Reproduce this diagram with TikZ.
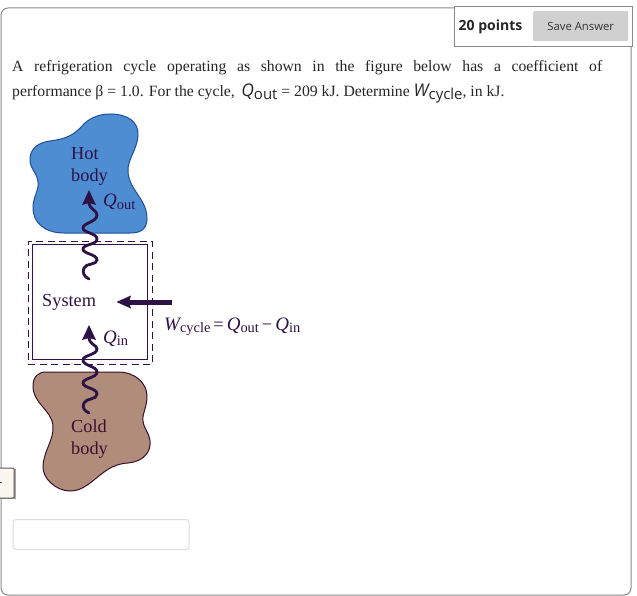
\documentclass[tikz,border=0pt]{standalone}
\usepackage{fontspec}
\setmainfont{Liberation Serif}
\newfontfamily\uifont{Open Sans}
\usetikzlibrary{arrows.meta,shadows}
\definecolor{ink}{HTML}{2E1145}
\definecolor{hot}{HTML}{4F8DD3}
\definecolor{hotline}{HTML}{1F4E9A}
\definecolor{cold}{HTML}{B08D7B}
\definecolor{coldline}{HTML}{3A0F2E}
\definecolor{frameline}{HTML}{8A8A8A}
\definecolor{btn}{HTML}{D0D0D0}
\definecolor{fieldline}{HTML}{DDDDDD}
\definecolor{tabfill}{HTML}{FAF7F0}
\newcommand{\qsym}[2]{{\uifont\itshape\fontsize{17.5}{17}\selectfont #1}\raisebox{-3pt}{\uifont\fontsize{15}{17}\selectfont #2}}
\newcommand{\figsym}[2]{{\itshape\fontsize{19}{22}\selectfont #1}\raisebox{-2.5pt}{\fontsize{14.4}{16}\selectfont #2}}
\tikzset{
  x=1pt,y=-1pt,
  panel/.style={draw=frameline,line width=1pt,fill=white},
  prose/.style={inner sep=0,anchor=base west,font=\fontsize{15.7}{17}\selectfont,text=black!85},
  figlabel/.style={inner sep=0,font=\fontsize{18.3}{22}\selectfont,text=ink},
  blob/.style={line width=1pt,line join=round},
  heat/.style={draw=ink,line width=2.8pt,line cap=round},
  heathead/.style={fill=ink,draw=none},
  boxline/.style={draw=ink,line width=1pt},
}
\begin{document}
\begin{tikzpicture}
\useasboundingbox (0,0) rectangle (637,596);
\fill[white] (0,0) rectangle (637,596);
% page frame
\draw[panel,rounded corners=7pt] (1,8) rectangle (631,595);
\node[draw=frameline,line width=1pt,fill=white,minimum width=178pt,minimum height=40pt,inner sep=0,anchor=north west] (pts) at (454,6) {};
\node[inner sep=0,font=\uifont\bfseries\fontsize{14}{16}\selectfont,text=black!85,anchor=base west] (ptstxt) at (458.5,30.5) {20 points};
\node[fill=btn,minimum width=95pt,minimum height=30pt,inner sep=0,anchor=north west,font=\uifont\fontsize{11.3}{14}\selectfont,text=black!80,rounded corners=1pt] (save) at (533,11) {Save Answer};
% question
\node[prose] (line1) at (12,71.5) {\makebox[590pt][s]{A refrigeration cycle operating as shown in the figure below has a coefficient of}};
\node[prose] (line2) at (12,97) {performance β = 1.0. For the cycle, \,\qsym{Q}{out} = 209 kJ. Determine \qsym{W}{cycle}, in kJ.};
% bodies
\draw[blob,draw=hotline,fill=hot] (110,114)
  .. controls (128,114) and (139,122) .. (138,136)
  .. controls (137,150) and (127,160) .. (128,172)
  .. controls (129,190) and (148,200) .. (147,220)
  .. controls (146,230) and (140,233) .. (130,233)
  -- (64,233)
  .. controls (44,233) and (33,222) .. (33,208)
  .. controls (33,196) and (39,192) .. (38,182)
  .. controls (37,172) and (29,168) .. (30,158)
  .. controls (31,146) and (42,142) .. (50,141)
  .. controls (66,139) and (74,135) .. (82,126)
  .. controls (88,119) and (98,114) .. (110,114) -- cycle;
\draw[blob,draw=coldline,fill=cold] (46,372)
  -- (118,372)
  .. controls (136,372) and (147,384) .. (147,396)
  .. controls (147,408) and (142,413) .. (143,421)
  .. controls (144,430) and (151,434) .. (150,445)
  .. controls (149,456) and (139,462) .. (128,463)
  .. controls (112,464) and (104,472) .. (94,480)
  .. controls (84,488) and (78,491) .. (70,491)
  .. controls (56,491) and (42,478) .. (43,466)
  .. controls (44,450) and (54,440) .. (53,426)
  .. controls (52,410) and (33,404) .. (33,386)
  .. controls (33,377) and (38,372) .. (46,372) -- cycle;
% system boxes
\node[draw=ink,line width=1pt,dash pattern=on 7pt off 4.5pt,minimum width=124pt,minimum height=123.5pt,inner sep=0,anchor=north west] (outer) at (27.7,240.7) {};
\node[boxline,minimum width=115pt,minimum height=115pt,inner sep=0,anchor=north west] (sys) at (32.3,244) {};
% heat transfer arrows
\coordinate (hs) at (89,279);
\coordinate (he) at (89,203);
\draw[heat] (hs) .. controls (84,277) and (82,272) .. (84,268)
  .. controls (86,263) and (97,265) .. (97,260)
  .. controls (97,254) and (83,254) .. (83,249)
  .. controls (83,244) and (97,245) .. (97,239)
  .. controls (97,233) and (83,233) .. (83,228)
  .. controls (83,223) and (97,222) .. (97,215)
  .. controls (97,210) and (90,210) .. (he);
\fill[heathead] (89,190) -- (96,205) -- (89,203) -- (82,205) -- cycle;
\coordinate (cs) at (89,413);
\coordinate (ce) at (89,338);
\draw[heat] (cs) .. controls (84,411) and (82,407) .. (84,403)
  .. controls (86,398) and (97,400) .. (97,394)
  .. controls (97,388) and (83,388) .. (83,383)
  .. controls (83,378) and (97,378) .. (97,372)
  .. controls (97,366) and (83,366) .. (83,360)
  .. controls (83,355) and (97,355) .. (97,349)
  .. controls (97,345) and (90,345) .. (ce);
\fill[heathead] (89,325) -- (96,340) -- (89,338) -- (82,340) -- cycle;
% work arrow
\coordinate (ws) at (172,302);
\coordinate (we) at (128,302);
\draw[draw=ink,line width=5pt] (ws) -- (we);
\fill[heathead] (116.5,302) -- (131,295.5) -- (129,302) -- (131,308.5) -- cycle;
% labels
\node[figlabel,align=left,anchor=north west] (hotl) at (71,147.5) {Hot\\[0pt]body};
\node[figlabel,anchor=base west] (qout) at (103,207) {\figsym{Q}{out}};
\node[figlabel,anchor=base west] (sysl) at (42,306) {System};
\node[figlabel,anchor=base west] (qin) at (103,343) {\figsym{Q}{in}};
\node[figlabel,anchor=base west] (wl) at (164,330) {\figsym{W}{cycle}\,=\,\figsym{Q}{out}\,−\,\figsym{Q}{in}};
\node[figlabel,align=left,anchor=north west,text=coldline] (coldl) at (71,420) {Cold\\[0pt]body};
% answer field
\node[draw=fieldline,line width=1pt,fill=white,rounded corners=3pt,minimum width=176pt,minimum height=30pt,inner sep=0,anchor=north west] (answer) at (12.5,519) {};
% side tab
\fill[black!35] (-5,469) rectangle (16,499);
\node[draw=black!65,line width=1pt,fill=tabfill,minimum width=19pt,minimum height=30pt,inner sep=0,anchor=north east,rounded corners=1pt] (tab) at (14.5,467.5) {};
\fill[black!70] (0,482) rectangle (2,483);
\end{tikzpicture}
\end{document}
